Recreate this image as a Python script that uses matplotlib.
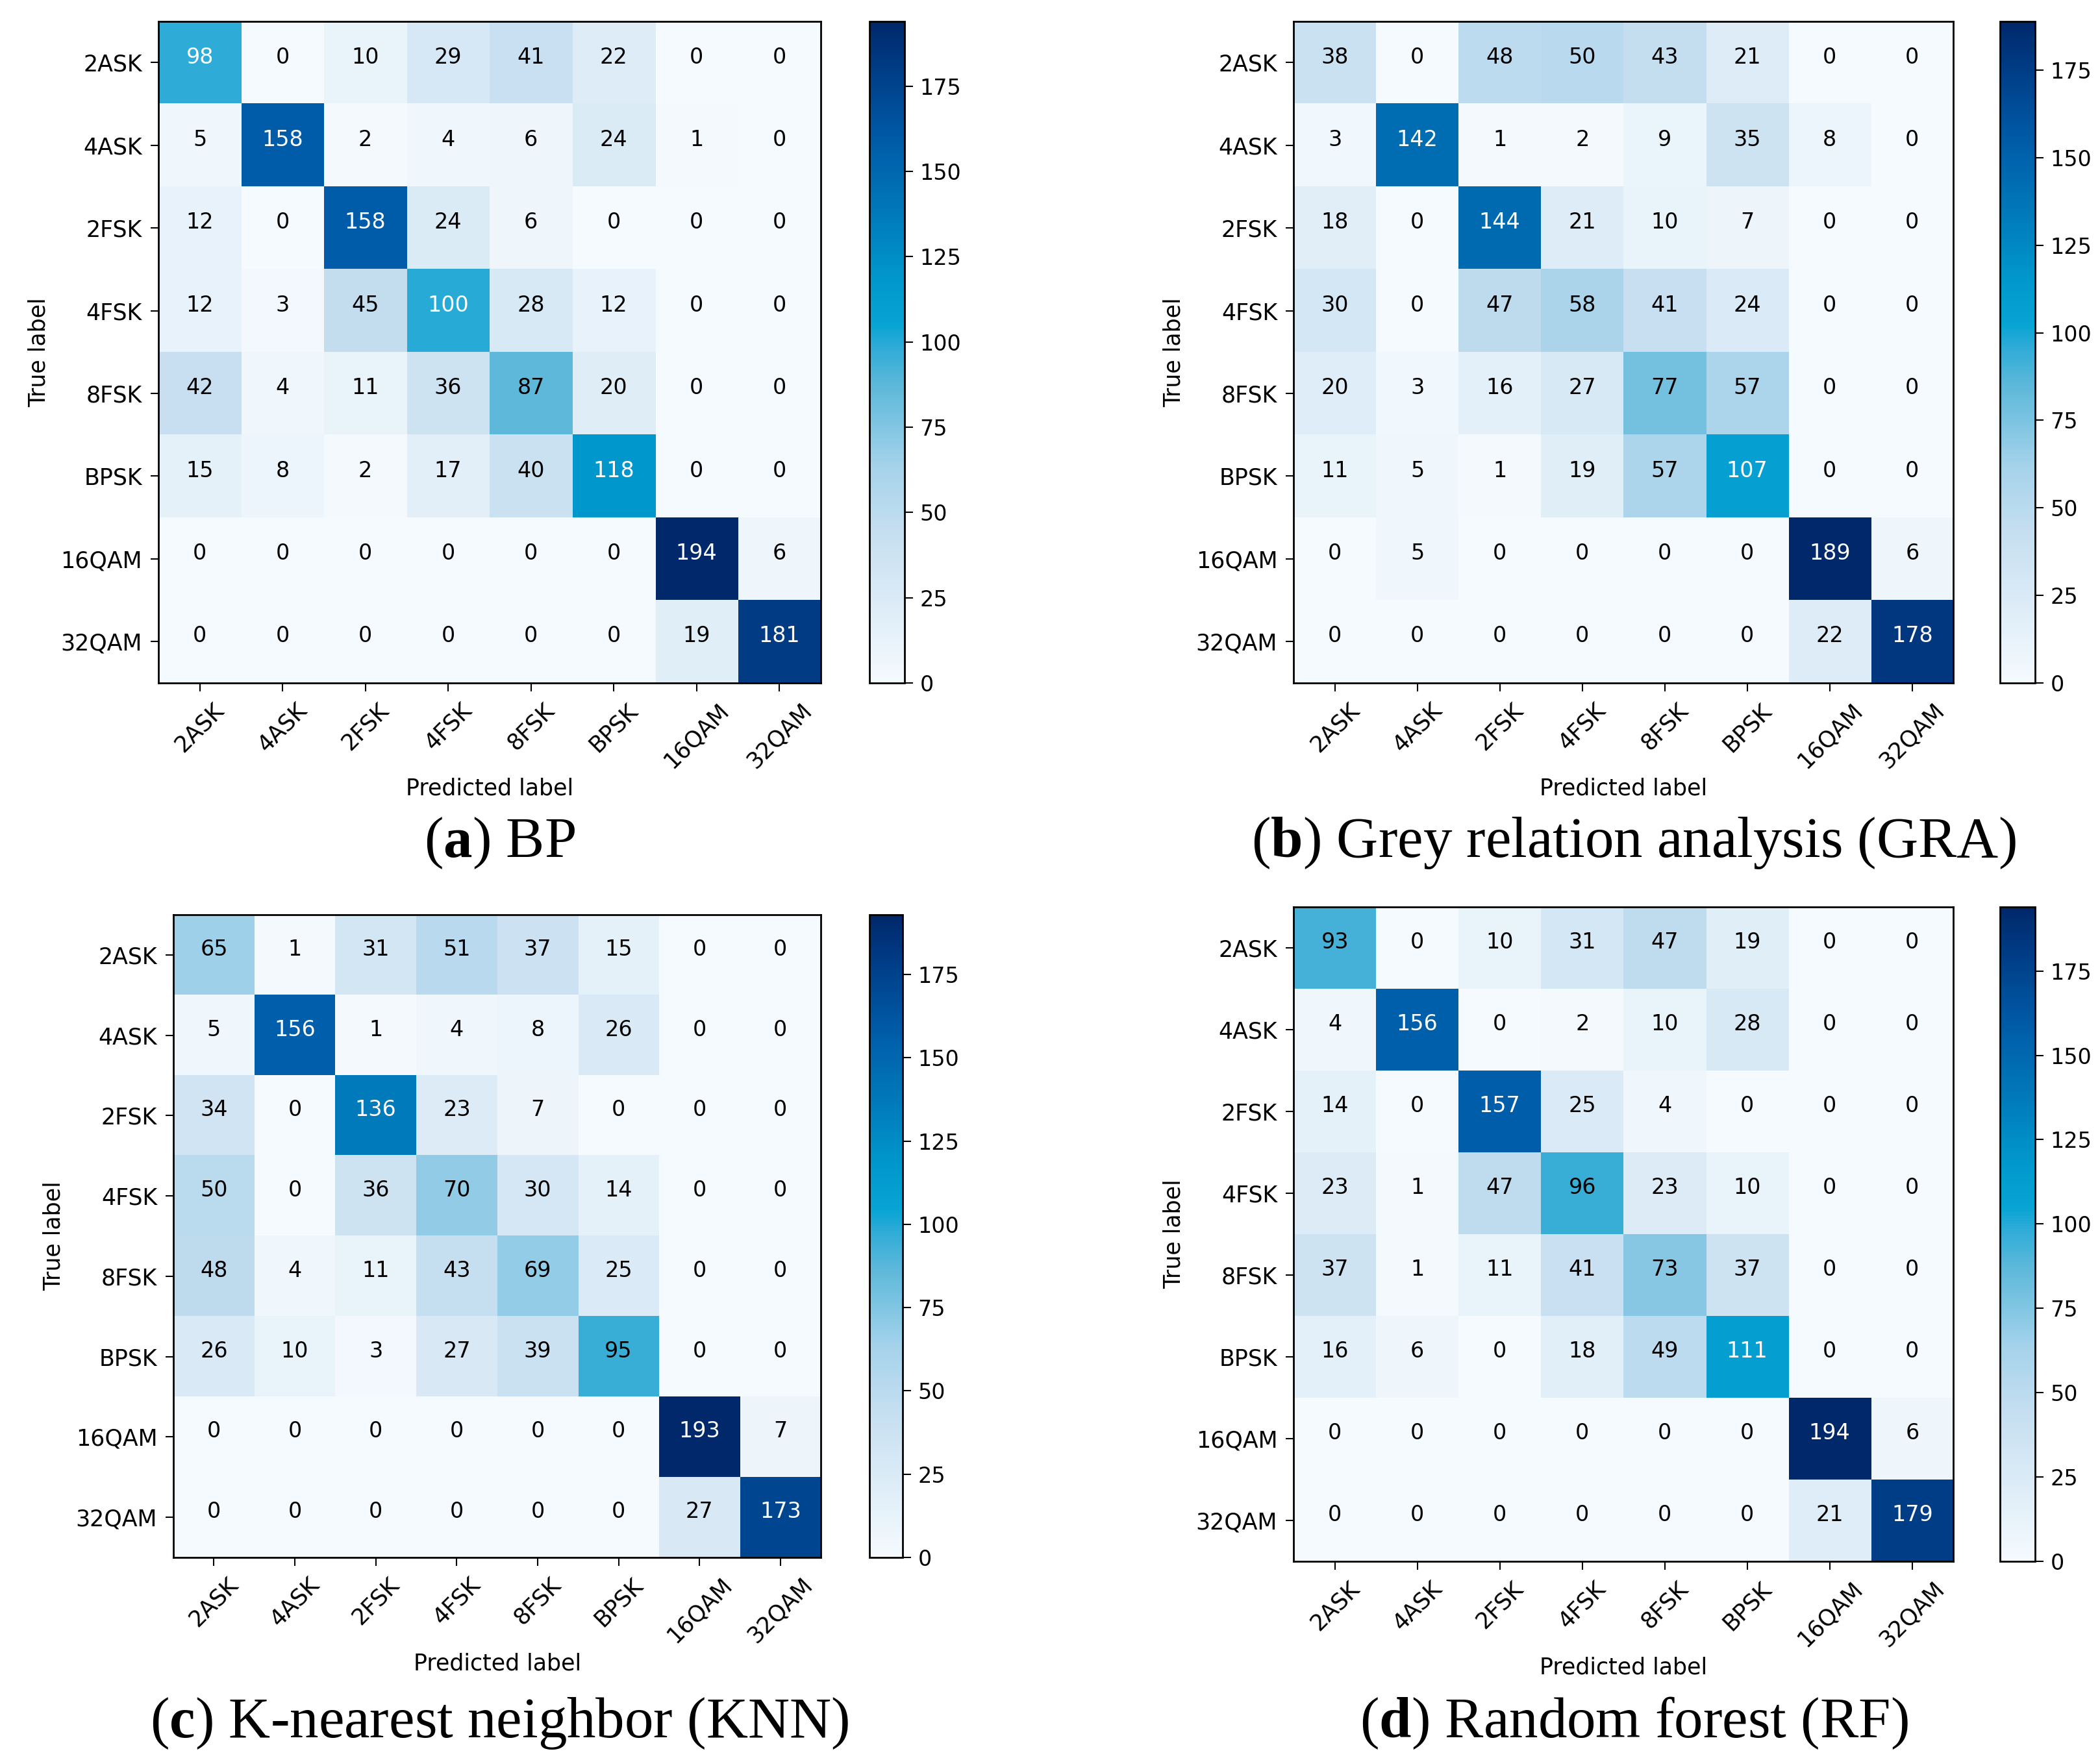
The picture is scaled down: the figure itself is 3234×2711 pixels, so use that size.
import matplotlib
matplotlib.use('Agg')
import matplotlib.pyplot as plt
from matplotlib.colors import LinearSegmentedColormap
import numpy as np

plt.rcParams['mathtext.fontset'] = 'custom'
plt.rcParams['mathtext.rm'] = 'Liberation Serif'
plt.rcParams['mathtext.bf'] = 'Liberation Serif:bold'

classes = ['2ASK', '4ASK', '2FSK', '4FSK', '8FSK', 'BPSK', '16QAM', '32QAM']

bp_cm = [
    [98, 0, 10, 29, 41, 22, 0, 0],
    [5, 158, 2, 4, 6, 24, 1, 0],
    [12, 0, 158, 24, 6, 0, 0, 0],
    [12, 3, 45, 100, 28, 12, 0, 0],
    [42, 4, 11, 36, 87, 20, 0, 0],
    [15, 8, 2, 17, 40, 118, 0, 0],
    [0, 0, 0, 0, 0, 0, 194, 6],
    [0, 0, 0, 0, 0, 0, 19, 181],
]

gra_cm = [
    [38, 0, 48, 50, 43, 21, 0, 0],
    [3, 142, 1, 2, 9, 35, 8, 0],
    [18, 0, 144, 21, 10, 7, 0, 0],
    [30, 0, 47, 58, 41, 24, 0, 0],
    [20, 3, 16, 27, 77, 57, 0, 0],
    [11, 5, 1, 19, 57, 107, 0, 0],
    [0, 5, 0, 0, 0, 0, 189, 6],
    [0, 0, 0, 0, 0, 0, 22, 178],
]

knn_cm = [
    [65, 1, 31, 51, 37, 15, 0, 0],
    [5, 156, 1, 4, 8, 26, 0, 0],
    [34, 0, 136, 23, 7, 0, 0, 0],
    [50, 0, 36, 70, 30, 14, 0, 0],
    [48, 4, 11, 43, 69, 25, 0, 0],
    [26, 10, 3, 27, 39, 95, 0, 0],
    [0, 0, 0, 0, 0, 0, 193, 7],
    [0, 0, 0, 0, 0, 0, 27, 173],
]

rf_cm = [
    [93, 0, 10, 31, 47, 19, 0, 0],
    [4, 156, 0, 2, 10, 28, 0, 0],
    [14, 0, 157, 25, 4, 0, 0, 0],
    [23, 1, 47, 96, 23, 10, 0, 0],
    [37, 1, 11, 41, 73, 37, 0, 0],
    [16, 6, 0, 18, 49, 111, 0, 0],
    [0, 0, 0, 0, 0, 0, 194, 6],
    [0, 0, 0, 0, 0, 0, 21, 179],
]

captions = [
    r'($\mathbf{a}$) BP',
    r'($\mathbf{b}$) Grey relation analysis (GRA)',
    r'($\mathbf{c}$) K-nearest neighbor (KNN)',
    r'($\mathbf{d}$) Random forest (RF)',
]

# colour ramp sampled from the reference colourbar (a bit more cyan than stock Blues)
blues = LinearSegmentedColormap.from_list('ref_blues', [
    (0.00, '#f5fafe'),
    (0.05, '#eaf4fb'),
    (0.10, '#e0eef8'),
    (0.15, '#d6e8f5'),
    (0.23, '#c4def0'),
    (0.33, '#a4d2ea'),
    (0.39, '#7fc5e2'),
    (0.45, '#5cb8da'),
    (0.51, '#2cabd7'),
    (0.54, '#08a4d4'),
    (0.61, '#0098cc'),
    (0.70, '#007cbc'),
    (0.81, '#005eaa'),
    (0.93, '#003c86'),
    (1.00, '#00286a'),
])


def plot_cm(fig, cm, ax_rect, cb_rect, caption, cap_xy):
    cm = np.array(cm)
    ax = fig.add_axes(ax_rect)
    cax = fig.add_axes(cb_rect)
    im = ax.imshow(cm, interpolation='nearest', cmap=blues,
                   vmin=0, vmax=cm.max(), aspect='auto')
    cb = fig.colorbar(im, cax=cax, ticks=range(0, 200, 25))
    cb.ax.tick_params(labelsize=24, length=9, width=1.5, pad=8)
    cb.outline.set_linewidth(2)

    ticks = np.arange(len(classes))
    ax.set_xticks(ticks)
    ax.set_xticklabels(classes, rotation=45)
    ax.set_yticks(ticks)
    ax.set_yticklabels(classes)
    ax.tick_params(labelsize=25, length=9, width=1.5, pad=9)
    for s in ax.spines.values():
        s.set_linewidth(2)

    # numbers sit a little above the cell centre, as in the original
    thresh = cm.max() / 2.
    for i in range(cm.shape[0]):
        for j in range(cm.shape[1]):
            ax.annotate(format(cm[i, j], 'd'), (j, i), xytext=(0, 6),
                        textcoords='offset points', ha='center', va='center',
                        fontsize=24,
                        color='white' if cm[i, j] > thresh else 'black')

    ax.set_ylabel('True label', fontsize=25, labelpad=12)
    ax.set_xlabel('Predicted label', fontsize=25, labelpad=6)
    fig.text(cap_xy[0], cap_xy[1], caption, ha='center', va='center',
             fontsize=64, family='Liberation Serif')


fig = plt.figure(figsize=(32.34, 27.11), dpi=100)

plot_cm(fig, bp_cm, [0.0754, 0.612, 0.3154, 0.3759],
        [0.414, 0.612, 0.0167, 0.3759], captions[0], (0.238, 0.521))
plot_cm(fig, gra_cm, [0.616, 0.612, 0.3142, 0.3759],
        [0.9524, 0.612, 0.0167, 0.3759], captions[1], (0.778, 0.521))
plot_cm(fig, knn_cm, [0.0826, 0.1151, 0.3083, 0.3652],
        [0.414, 0.1151, 0.0158, 0.3652], captions[2], (0.238, 0.021))
plot_cm(fig, rf_cm, [0.616, 0.1129, 0.3142, 0.3718],
        [0.9524, 0.1129, 0.0167, 0.3718], captions[3], (0.778, 0.021))

fig.savefig('out.png', dpi=100, facecolor='white')
